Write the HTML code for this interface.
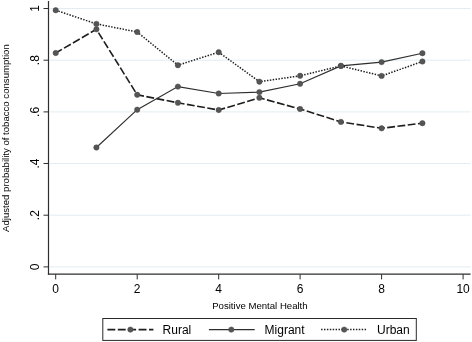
<!DOCTYPE html><html><head><meta charset="utf-8"><title>Chart</title><style>html,body{margin:0;padding:0;background:#fff}svg{display:block}text{font-family:"Liberation Sans",Arial,sans-serif;fill:#000}</style></head><body>
<svg width="472" height="342" viewBox="0 0 472 342">
<rect width="472" height="342" fill="#fff"/>
<line x1="49.5" y1="8.5" x2="470.6" y2="8.5" stroke="#e3edf1" stroke-width="1"/>
<line x1="49.5" y1="60.2" x2="470.6" y2="60.2" stroke="#e3edf1" stroke-width="1"/>
<line x1="49.5" y1="111.9" x2="470.6" y2="111.9" stroke="#e3edf1" stroke-width="1"/>
<line x1="49.5" y1="163.5" x2="470.6" y2="163.5" stroke="#e3edf1" stroke-width="1"/>
<line x1="49.5" y1="215.2" x2="470.6" y2="215.2" stroke="#e3edf1" stroke-width="1"/>
<line x1="49.5" y1="266.9" x2="470.6" y2="266.9" stroke="#e3edf1" stroke-width="1"/>
<polyline points="55.7,53.0 96.4,29.3 137.2,94.8 177.9,102.8 218.7,110.0 259.4,97.8 300.1,109.0 340.9,121.9 381.6,128.3 422.4,123.2" fill="none" stroke="#1e1e1e" stroke-width="1.6" stroke-dasharray="7.85 2.48" stroke-dashoffset="0.7"/>
<polyline points="96.4,147.5 137.2,109.7 177.9,86.6 218.7,93.5 259.4,92.1 300.1,83.8 340.9,65.9 381.6,62.1 422.4,53.2" fill="none" stroke="#2e2e2e" stroke-width="1.15"/>
<polyline points="55.7,10.2 96.4,23.9 137.2,32.0 177.9,65.2 218.7,52.2 259.4,81.7 300.1,75.8 340.9,65.9 381.6,75.9 422.4,61.5" fill="none" stroke="#1e1e1e" stroke-width="1.5" stroke-dasharray="1.45 1.45"/>
<circle cx="55.7" cy="53.0" r="2.7" fill="#555555" stroke="#484848" stroke-width="0.5"/>
<circle cx="96.4" cy="29.3" r="2.7" fill="#555555" stroke="#484848" stroke-width="0.5"/>
<circle cx="137.2" cy="94.8" r="2.7" fill="#555555" stroke="#484848" stroke-width="0.5"/>
<circle cx="177.9" cy="102.8" r="2.7" fill="#555555" stroke="#484848" stroke-width="0.5"/>
<circle cx="218.7" cy="110.0" r="2.7" fill="#555555" stroke="#484848" stroke-width="0.5"/>
<circle cx="259.4" cy="97.8" r="2.7" fill="#555555" stroke="#484848" stroke-width="0.5"/>
<circle cx="300.1" cy="109.0" r="2.7" fill="#555555" stroke="#484848" stroke-width="0.5"/>
<circle cx="340.9" cy="121.9" r="2.7" fill="#555555" stroke="#484848" stroke-width="0.5"/>
<circle cx="381.6" cy="128.3" r="2.7" fill="#555555" stroke="#484848" stroke-width="0.5"/>
<circle cx="422.4" cy="123.2" r="2.7" fill="#555555" stroke="#484848" stroke-width="0.5"/>
<circle cx="96.4" cy="147.5" r="2.7" fill="#555555" stroke="#484848" stroke-width="0.5"/>
<circle cx="137.2" cy="109.7" r="2.7" fill="#555555" stroke="#484848" stroke-width="0.5"/>
<circle cx="177.9" cy="86.6" r="2.7" fill="#555555" stroke="#484848" stroke-width="0.5"/>
<circle cx="218.7" cy="93.5" r="2.7" fill="#555555" stroke="#484848" stroke-width="0.5"/>
<circle cx="259.4" cy="92.1" r="2.7" fill="#555555" stroke="#484848" stroke-width="0.5"/>
<circle cx="300.1" cy="83.8" r="2.7" fill="#555555" stroke="#484848" stroke-width="0.5"/>
<circle cx="340.9" cy="65.9" r="2.7" fill="#555555" stroke="#484848" stroke-width="0.5"/>
<circle cx="381.6" cy="62.1" r="2.7" fill="#555555" stroke="#484848" stroke-width="0.5"/>
<circle cx="422.4" cy="53.2" r="2.7" fill="#555555" stroke="#484848" stroke-width="0.5"/>
<circle cx="55.7" cy="10.2" r="2.7" fill="#555555" stroke="#484848" stroke-width="0.5"/>
<circle cx="96.4" cy="23.9" r="2.7" fill="#555555" stroke="#484848" stroke-width="0.5"/>
<circle cx="137.2" cy="32.0" r="2.7" fill="#555555" stroke="#484848" stroke-width="0.5"/>
<circle cx="177.9" cy="65.2" r="2.7" fill="#555555" stroke="#484848" stroke-width="0.5"/>
<circle cx="218.7" cy="52.2" r="2.7" fill="#555555" stroke="#484848" stroke-width="0.5"/>
<circle cx="259.4" cy="81.7" r="2.7" fill="#555555" stroke="#484848" stroke-width="0.5"/>
<circle cx="300.1" cy="75.8" r="2.7" fill="#555555" stroke="#484848" stroke-width="0.5"/>
<circle cx="340.9" cy="65.9" r="2.7" fill="#555555" stroke="#484848" stroke-width="0.5"/>
<circle cx="381.6" cy="75.9" r="2.7" fill="#555555" stroke="#484848" stroke-width="0.5"/>
<circle cx="422.4" cy="61.5" r="2.7" fill="#555555" stroke="#484848" stroke-width="0.5"/>
<line x1="48.5" y1="1.0" x2="48.5" y2="274.8" stroke="#2e2e2e" stroke-width="1.2"/>
<line x1="47.9" y1="274.2" x2="470.6" y2="274.2" stroke="#2e2e2e" stroke-width="1.2"/>
<line x1="43.5" y1="8.5" x2="48.5" y2="8.5" stroke="#2e2e2e" stroke-width="1"/>
<text transform="translate(38.7,8.5) rotate(-90)" text-anchor="middle" font-size="12">1</text>
<line x1="43.5" y1="60.2" x2="48.5" y2="60.2" stroke="#2e2e2e" stroke-width="1"/>
<text transform="translate(38.7,60.2) rotate(-90)" text-anchor="middle" font-size="12">.8</text>
<line x1="43.5" y1="111.9" x2="48.5" y2="111.9" stroke="#2e2e2e" stroke-width="1"/>
<text transform="translate(38.7,111.9) rotate(-90)" text-anchor="middle" font-size="12">.6</text>
<line x1="43.5" y1="163.5" x2="48.5" y2="163.5" stroke="#2e2e2e" stroke-width="1"/>
<text transform="translate(38.7,163.5) rotate(-90)" text-anchor="middle" font-size="12">.4</text>
<line x1="43.5" y1="215.2" x2="48.5" y2="215.2" stroke="#2e2e2e" stroke-width="1"/>
<text transform="translate(38.7,215.2) rotate(-90)" text-anchor="middle" font-size="12">.2</text>
<line x1="43.5" y1="266.9" x2="48.5" y2="266.9" stroke="#2e2e2e" stroke-width="1"/>
<text transform="translate(38.7,266.9) rotate(-90)" text-anchor="middle" font-size="12">0</text>
<line x1="55.7" y1="274.2" x2="55.7" y2="279.4" stroke="#2e2e2e" stroke-width="1"/>
<text x="55.7" y="292.6" text-anchor="middle" font-size="12">0</text>
<line x1="137.2" y1="274.2" x2="137.2" y2="279.4" stroke="#2e2e2e" stroke-width="1"/>
<text x="137.2" y="292.6" text-anchor="middle" font-size="12">2</text>
<line x1="218.7" y1="274.2" x2="218.7" y2="279.4" stroke="#2e2e2e" stroke-width="1"/>
<text x="218.7" y="292.6" text-anchor="middle" font-size="12">4</text>
<line x1="300.1" y1="274.2" x2="300.1" y2="279.4" stroke="#2e2e2e" stroke-width="1"/>
<text x="300.1" y="292.6" text-anchor="middle" font-size="12">6</text>
<line x1="381.6" y1="274.2" x2="381.6" y2="279.4" stroke="#2e2e2e" stroke-width="1"/>
<text x="381.6" y="292.6" text-anchor="middle" font-size="12">8</text>
<line x1="463.1" y1="274.2" x2="463.1" y2="279.4" stroke="#2e2e2e" stroke-width="1"/>
<text x="463.1" y="292.6" text-anchor="middle" font-size="12">10</text>
<text x="259.9" y="309.2" text-anchor="middle" font-size="9.6">Positive Mental Health</text>
<text transform="translate(9.1,138.1) rotate(-90)" text-anchor="middle" font-size="9.6">Adjusted probability of tobacco consumption</text>
<rect x="102.8" y="318.5" width="313.5" height="21.9" fill="#fff" stroke="#2a2a2a" stroke-width="1"/>
<line x1="107.4" y1="329.6" x2="153.4" y2="329.6" stroke="#1e1e1e" stroke-width="1.6" stroke-dasharray="7.9 2.5"/>
<circle cx="130.4" cy="329.6" r="2.7" fill="#555555" stroke="#484848" stroke-width="0.5"/>
<text x="162.6" y="333.5" font-size="12">Rural</text>
<line x1="208.9" y1="329.6" x2="254.7" y2="329.6" stroke="#2e2e2e" stroke-width="1.15"/>
<circle cx="231.3" cy="329.6" r="2.7" fill="#555555" stroke="#484848" stroke-width="0.5"/>
<text x="264.6" y="333.5" font-size="12">Migrant</text>
<line x1="321.1" y1="329.6" x2="367.2" y2="329.6" stroke="#1e1e1e" stroke-width="1.5" stroke-dasharray="1.45 1.45"/>
<circle cx="344.2" cy="329.6" r="2.7" fill="#555555" stroke="#484848" stroke-width="0.5"/>
<text x="377.0" y="333.5" font-size="12">Urban</text>
</svg></body></html>
